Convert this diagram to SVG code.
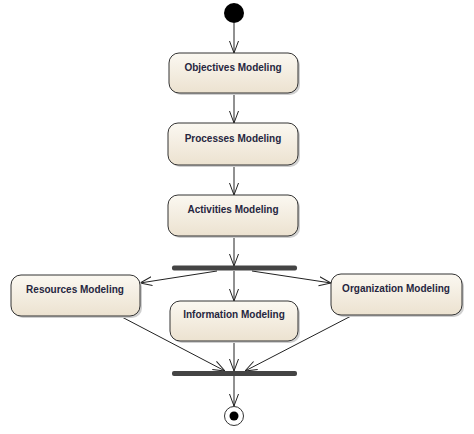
<svg xmlns="http://www.w3.org/2000/svg" width="474" height="434" viewBox="0 0 474 434">
<style>
.box{fill:url(#g);stroke:#333;stroke-width:1}
.sh{fill:#cfcfcf}
.t{font-family:"Liberation Sans",Arial,sans-serif;font-weight:bold;font-size:10px;fill:#262640;text-anchor:middle}
.c{stroke:#222;stroke-width:1;fill:none;marker-end:url(#a)}
.bar{fill:#444}
</style>
<defs>
<linearGradient id="g" x1="0" y1="0" x2="0" y2="1">
<stop offset="0" stop-color="#fbf8f1"/>
<stop offset="1" stop-color="#ece2d0"/>
</linearGradient>
<marker id="a" viewBox="0 0 12 12" refX="12" refY="6" markerWidth="12" markerHeight="12" markerUnits="userSpaceOnUse" orient="auto">
<path d="M0,1.5 L12,6 L0,10.5" fill="none" stroke="#222" stroke-width="1"/>
</marker>
</defs>
<rect width="474" height="434" fill="#fff"/>
<g id="connectors">
<line class="c" x1="234" y1="23" x2="234" y2="53"/>
<line class="c" x1="234" y1="93" x2="234" y2="123"/>
<line class="c" x1="234" y1="165" x2="234" y2="195"/>
<line class="c" x1="234" y1="236" x2="234" y2="266"/>
<line class="c" x1="217" y1="271" x2="140" y2="283"/>
<line class="c" x1="234" y1="271" x2="234" y2="301"/>
<line class="c" x1="252" y1="271" x2="331" y2="283"/>
<line class="c" x1="120" y1="316" x2="225" y2="371"/>
<line class="c" x1="234" y1="341" x2="234" y2="371"/>
<line class="c" x1="353" y1="315" x2="245" y2="371"/>
<line class="c" x1="234" y1="376" x2="234" y2="406"/>
</g>
<g id="start"><circle cx="234" cy="13" r="10" fill="#000"/></g>
<g id="objectives">
<rect class="sh" x="171" y="55" width="129" height="40" rx="10"/>
<rect class="box" x="169" y="53" width="129" height="40" rx="10"/>
<text class="t" x="233" y="71">Objectives Modeling</text>
</g>
<g id="processes">
<rect class="sh" x="170" y="125" width="130" height="42" rx="10"/>
<rect class="box" x="168" y="123" width="130" height="42" rx="10"/>
<text class="t" x="233" y="142">Processes Modeling</text>
</g>
<g id="activities">
<rect class="sh" x="170" y="197" width="130" height="41" rx="10"/>
<rect class="box" x="168" y="195" width="130" height="41" rx="10"/>
<text class="t" x="233" y="213">Activities Modeling</text>
</g>
<g id="fork"><rect class="bar" x="172" y="265.5" width="125" height="5" rx="2"/></g>
<g id="resources">
<rect class="sh" x="13" y="277" width="129" height="41" rx="10"/>
<rect class="box" x="11" y="275" width="129" height="41" rx="10"/>
<text class="t" x="75" y="293">Resources Modeling</text>
</g>
<g id="information">
<rect class="sh" x="172" y="303" width="128" height="40" rx="10"/>
<rect class="box" x="170" y="301" width="128" height="40" rx="10"/>
<text class="t" x="234" y="318">Information Modeling</text>
</g>
<g id="organization">
<rect class="sh" x="333" y="276" width="131" height="41" rx="10"/>
<rect class="box" x="331" y="274" width="131" height="41" rx="10"/>
<text class="t" x="396" y="292">Organization Modeling</text>
</g>
<g id="join"><rect class="bar" x="172" y="371" width="125" height="5" rx="2"/></g>
<g id="end">
<circle cx="234" cy="416" r="9.5" fill="#fff" stroke="#333" stroke-width="1"/>
<circle cx="234" cy="416" r="4.5" fill="#000"/>
</g>
</svg>
